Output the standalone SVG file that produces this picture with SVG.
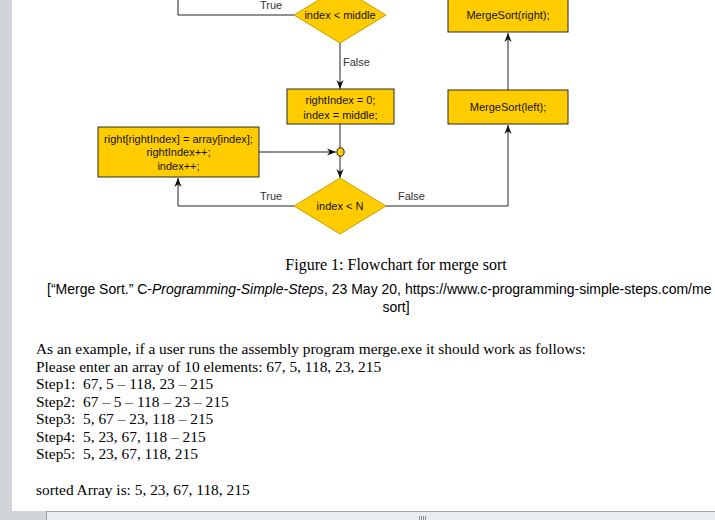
<svg xmlns="http://www.w3.org/2000/svg" width="715" height="520" viewBox="0 0 715 520">
<style>
.box{fill:#ffcc00;stroke:#2a2a2a;stroke-width:1}
.dia{fill:#ffcc00;stroke:#c9a200;stroke-width:1}
.bt{font-family:"Liberation Sans",Arial,sans-serif;font-size:11px;fill:#111;text-anchor:middle}
.lbl{font-family:"Liberation Sans",Arial,sans-serif;font-size:11px;fill:#333}
.edge{fill:none;stroke:#222;stroke-width:1}
.body{font-family:"Liberation Serif","Times New Roman",serif;font-size:15.4px;fill:#000}
.cap{font-family:"Liberation Serif","Times New Roman",serif;font-size:16px;fill:#000;text-anchor:middle}
.cite{font-family:"Liberation Sans",Arial,sans-serif;font-size:14px;fill:#000}
</style>
<defs>
<marker id="arr" viewBox="0 0 10 10" refX="10" refY="5" markerWidth="9" markerHeight="9" markerUnits="userSpaceOnUse" orient="auto">
<path d="M0,1 L10,5 L0,9 L3,5 Z" fill="#111"/>
</marker>
</defs>
<rect x="0" y="0" width="715" height="520" fill="#fff"/>
<rect x="0" y="0" width="12" height="520" fill="#d1d5da"/>

<g id="connectors">
<polyline class="edge" points="295,15 178,15 178,-2"/>
<line class="edge" x1="508" y1="90" x2="508" y2="33" marker-end="url(#arr)"/>
<line class="edge" x1="340" y1="43" x2="340" y2="89" marker-end="url(#arr)"/>
<line class="edge" x1="340" y1="124" x2="340" y2="148"/>
<line class="edge" x1="259" y1="152" x2="336" y2="152" marker-end="url(#arr)"/>
<line class="edge" x1="340" y1="156" x2="340" y2="178" marker-end="url(#arr)"/>
<polyline class="edge" points="294,206 178,206 178,178" marker-end="url(#arr)"/>
<polyline class="edge" points="386,206 508,206 508,125" marker-end="url(#arr)"/>
<text class="lbl" x="260" y="9">True</text>
<text class="lbl" x="343" y="66">False</text>
<text class="lbl" x="260" y="200">True</text>
<text class="lbl" x="398" y="200">False</text>
</g>

<g id="dec-middle">
<polygon class="dia" points="340,-13 386,15 340,43 294,15"/>
<text class="bt" x="340" y="19">index &lt; middle</text>
</g>
<g id="merge-right">
<rect class="box" x="448" y="-2" width="120" height="34"/>
<text class="bt" x="508" y="19">MergeSort(right);</text>
</g>
<g id="init-right">
<rect class="box" x="287" y="89" width="107" height="35"/>
<text class="bt" x="340.5" y="104">rightIndex = 0;</text>
<text class="bt" x="340.5" y="119">index = middle;</text>
</g>
<g id="merge-left">
<rect class="box" x="448" y="90" width="120" height="34"/>
<text class="bt" x="508" y="111">MergeSort(left);</text>
</g>
<g id="copy-right">
<rect class="box" x="98" y="127" width="161" height="50"/>
<text class="bt" x="178.5" y="143">right[rightIndex] = array[index];</text>
<text class="bt" x="178.5" y="156">rightIndex++;</text>
<text class="bt" x="178.5" y="170">index++;</text>
</g>
<g id="junction">
<ellipse cx="340.5" cy="152" rx="3.6" ry="4.3" fill="#ffcc00" stroke="#222" stroke-width="1"/>
</g>
<g id="dec-n">
<polygon class="dia" points="340,178 386,206 340,234 294,206"/>
<text class="bt" x="340" y="210">index &lt; N</text>
</g>

<text class="cap" x="396" y="270">Figure 1: Flowchart for merge sort</text>
<text class="cite" x="47" y="294" xml:space="preserve">[“Merge Sort.” C-<tspan font-style="italic">Programming-Simple-Steps</tspan>, 23 May 20, https://www.c-programming-simple-steps.com/me</text>
<text class="cite" x="396" y="312" text-anchor="middle">sort]</text>

<g class="body">
<text x="36" y="354" xml:space="preserve">As an example, if a user runs the assembly program merge.exe it should work as follows:</text>
<text x="36" y="371.5" xml:space="preserve">Please enter an array of 10 elements: 67, 5, 118, 23, 215</text>
<text x="36" y="389" xml:space="preserve">Step1:  67, 5 – 118, 23 – 215</text>
<text x="36" y="406.5" xml:space="preserve">Step2:  67 – 5 – 118 – 23 – 215</text>
<text x="36" y="424" xml:space="preserve">Step3:  5, 67 – 23, 118 – 215</text>
<text x="36" y="441.5" xml:space="preserve">Step4:  5, 23, 67, 118 – 215</text>
<text x="36" y="459" xml:space="preserve">Step5:  5, 23, 67, 118, 215</text>
<text x="36" y="495" xml:space="preserve">sorted Array is: 5, 23, 67, 118, 215</text>
</g>

<rect x="0" y="511" width="46" height="9" fill="#d1d5da"/>
<rect x="46" y="511" width="669" height="9" fill="#e9ecf0"/>
<line x1="46" y1="511.5" x2="715" y2="511.5" stroke="#a0a3a8" stroke-width="1"/>
<line x1="46.5" y1="511" x2="46.5" y2="520" stroke="#a0a3a8" stroke-width="1"/>
<g stroke="#8a8d92" stroke-width="1">
<line x1="419.5" y1="516" x2="419.5" y2="520"/>
<line x1="421.5" y1="516" x2="421.5" y2="520"/>
<line x1="423.5" y1="516" x2="423.5" y2="520"/>
<line x1="425.5" y1="516" x2="425.5" y2="520"/>
</g>
</svg>
